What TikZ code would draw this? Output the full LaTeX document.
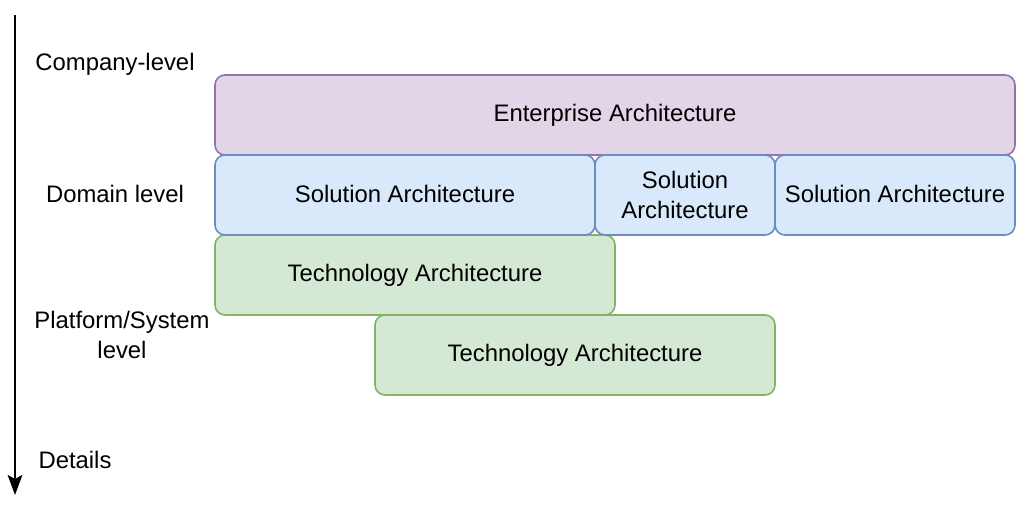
\documentclass[tikz,border=0pt]{standalone}
\usepackage{fontspec}
\setmainfont{Liberation Sans}
\usetikzlibrary{arrows.meta}
\definecolor{purpF}{HTML}{E1D5E7}\definecolor{purpD}{HTML}{9673A6}
\definecolor{bluF}{HTML}{DAE8FC}\definecolor{bluD}{HTML}{6C8EBF}
\definecolor{grnF}{HTML}{D5E8D4}\definecolor{grnD}{HTML}{82B366}
\begin{document}
\begin{tikzpicture}[x=0.75pt,y=-0.75pt,
  txt/.style={font=\fontsize{17.9pt}{22.5pt}\selectfont, align=center, inner sep=0pt},
  box/.style={rounded corners=7.5pt, line width=1.2pt},
  ent/.style={box, fill=purpF, draw=purpD},
  sol/.style={box, fill=bluF, draw=bluD},
  tec/.style={box, fill=grnF, draw=grnD}]
\useasboundingbox (0,0) rectangle (1018,514);
% left axis
\coordinate (top) at (15,15);
\coordinate (bot) at (15,495);
\draw[line width=1.5pt, -{Stealth[length=15pt,width=11pt,inset=3pt]}] (top) -- (bot);
\node[txt] (lc) at (115,64) {Company-level};
\node[txt] (ld) at (115,194) {Domain level};
\node[txt] (lp) at (122,335) {Platform/System\\level};
\node[txt] (lx) at (75,460) {Details};
% boxes
\draw[tec] (375,315) rectangle (775,395);
\node[txt] (t2) at (575,355) {Technology Architecture};
\draw[tec] (215,235) rectangle (615,315);
\node[txt] (t1) at (415,275) {Technology Architecture};
\draw[ent] (215,75) rectangle (1015,155);
\node[txt] (e) at (615,115) {Enterprise Architecture};
\draw[sol] (215,155) rectangle (595,235);
\node[txt] (s1) at (405,194) {Solution Architecture};
\draw[sol] (595,155) rectangle (775,235);
\node[txt] (s2) at (685,195) {Solution\\Architecture};
\draw[sol] (775,155) rectangle (1015,235);
\node[txt] (s3) at (895,194) {Solution Architecture};
\end{tikzpicture}
\end{document}
